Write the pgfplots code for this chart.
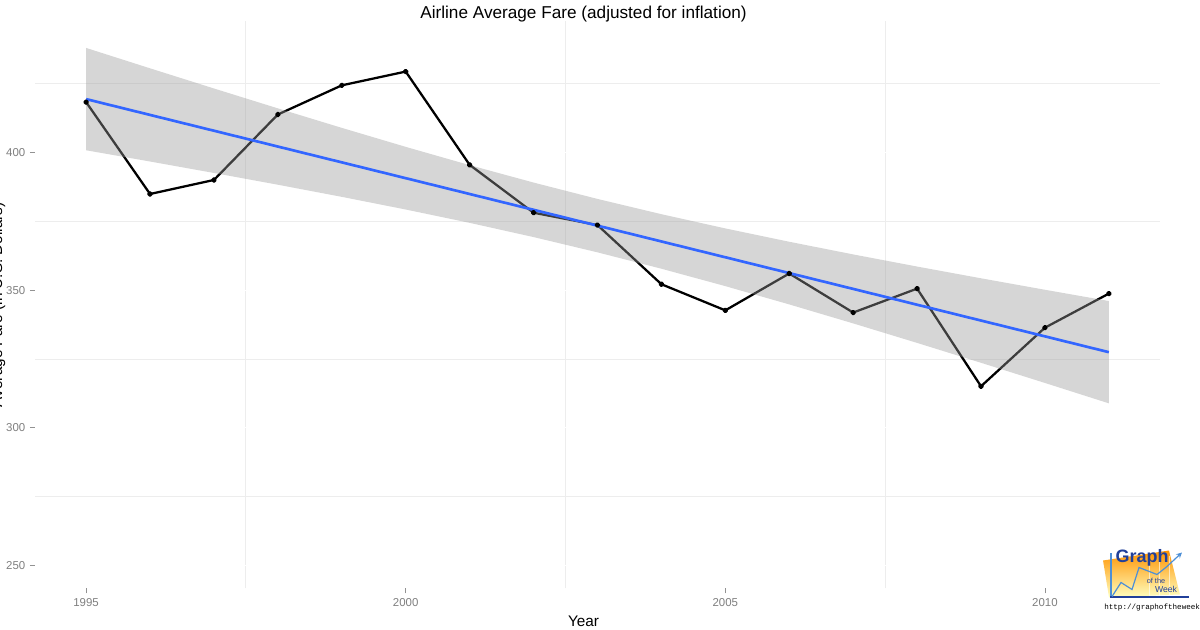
\documentclass[border=0pt]{standalone}
\usepackage{pgfplots}
\pgfplotsset{compat=1.18}
\usepackage{fontspec}
\setmainfont{Liberation Sans}
\newfontfamily\monofont{Liberation Mono}

\definecolor{fitblue}{HTML}{3366FF}
\definecolor{bandgray}{HTML}{999999}
\definecolor{gridgray}{HTML}{EDEDED}
\definecolor{ticktext}{HTML}{7F7F7F}
\definecolor{logoblue}{HTML}{21409A}
\definecolor{logoline}{HTML}{4D8FD6}

% average fare per year (inflation adjusted)
\pgfplotstableread{
year fare
1995 418.4
1996 385.0
1997 390.1
1998 413.9
1999 424.5
2000 429.5
2001 395.6
2002 378.2
2003 373.7
2004 352.2
2005 342.7
2006 356.1
2007 341.9
2008 350.6
2009 315.1
2010 336.4
2011 348.8
}\faredata

% linear fit
\pgfplotstableread{
year fit
1995 419.50
2011 327.50
}\fitdata

\begin{document}
\begin{tikzpicture}
\begin{axis}[
  name=ax,
  scale only axis,
  width=844.5pt, height=426pt,
  xmin=1994.2, xmax=2011.8,
  ymin=241.6, ymax=447.9,
  xtick={1995,2000,2005,2010},
  ytick={250,300,350,400},
  minor xtick={1997.5,2002.5,2007.5},
  minor ytick={275,325,375,425},
  grid=both,
  minor grid style={gridgray, line width=0.75pt},
  major grid style={white, line width=0.75pt},
  axis line style={draw=none},
  tick align=outside,
  tick pos=left,
  major tick length=3.75pt,
  minor tick length=0pt,
  major tick style={ticktext!85, line width=0.6pt},
  /pgf/number format/assume math mode=true,
  x tick label style={/pgf/number format/1000 sep={}},
  tick label style={font=\fontsize{8.6}{10}\selectfont, text=ticktext},
  title={Airline Average Fare (adjusted for inflation)},
  title style={at={(axis description cs:0.4876,1.0044)}, anchor=base, yshift=-6pt,
    font=\fontsize{12.9}{15}\selectfont},
  xlabel={Year},
  xlabel style={at={(axis description cs:0.4876,-0.0669)}, anchor=base,
    font=\fontsize{11.5}{14}\selectfont},
  ylabel={Average Fare (in U.S. Dollars)},
  ylabel style={at={(axis description cs:-0.0293,0.5)}, anchor=base,
    font=\fontsize{11.5}{14}\selectfont},
]
\addplot[black, line width=1.7pt, line join=round, mark=*, mark size=1.3pt]
  table[x=year, y=fare] {\faredata};

% 95% confidence band of the fit
\addplot[draw=none, fill=bandgray, fill opacity=0.4] coordinates {
  (1995,438.10) (1996,430.69) (1997,423.36) (1998,416.13) (1999,409.04)
  (2000,402.14) (2001,395.49) (2002,389.16) (2003,383.21) (2004,377.66)
  (2005,372.49) (2006,367.64) (2007,363.04) (2008,358.63) (2009,354.36)
  (2010,350.19) (2011,346.10)
  (2011,308.90) (2010,316.31) (2009,323.64) (2008,330.87) (2007,337.96)
  (2006,344.86) (2005,351.51) (2004,357.84) (2003,363.79) (2002,369.34)
  (2001,374.51) (2000,379.36) (1999,383.96) (1998,388.37) (1997,392.64)
  (1996,396.81) (1995,400.90)
} -- cycle;

\addplot[fitblue, line width=2pt] table[x=year, y=fit] {\fitdata};
\end{axis}

\pgfresetboundingbox
% pixel frame of the 1200x630 picture
\begin{scope}[x=0.75pt, y=-0.75pt, shift={(ax.south west)}, xshift=-26.25pt, yshift=441.75pt]
  \path (0,0) rectangle (1200,630);
  % logo
  \shade[top color=orange!85!yellow, bottom color=yellow!25]
    (1104,561) -- (1170,551) -- (1181,595) -- (1110,598) -- cycle;
  \foreach \gx in {1150,1160,1170} \draw[white, opacity=0.6] (\gx,556) -- (\gx,597);
  \fill[logoline] (1110.5,553) rectangle (1113,598);
  \draw[logoblue, line width=0.8pt] (1111,597.5) -- (1190,597.5);
  \draw[logoline, line width=0.9pt, -stealth] (1113,597) -- (1122,583) -- (1133,590)
    -- (1140,568) -- (1158,575) -- (1168,567) -- (1183,553);
  \node[logoblue, font=\bfseries\fontsize{13.5}{14}\selectfont, anchor=base]
    at (1143,563) {Graph};
  \node[logoblue, font=\fontsize{5.5}{6}\selectfont, anchor=base] at (1157,584) {of the};
  \node[logoblue, font=\fontsize{6.5}{7}\selectfont, anchor=base] at (1167,593) {Week};
  \node[black, font=\monofont\fontsize{5.7}{6}\selectfont, anchor=base west, inner sep=0pt]
    at (1105,610) {http://graphoftheweek};
\end{scope}
\end{tikzpicture}
\end{document}
